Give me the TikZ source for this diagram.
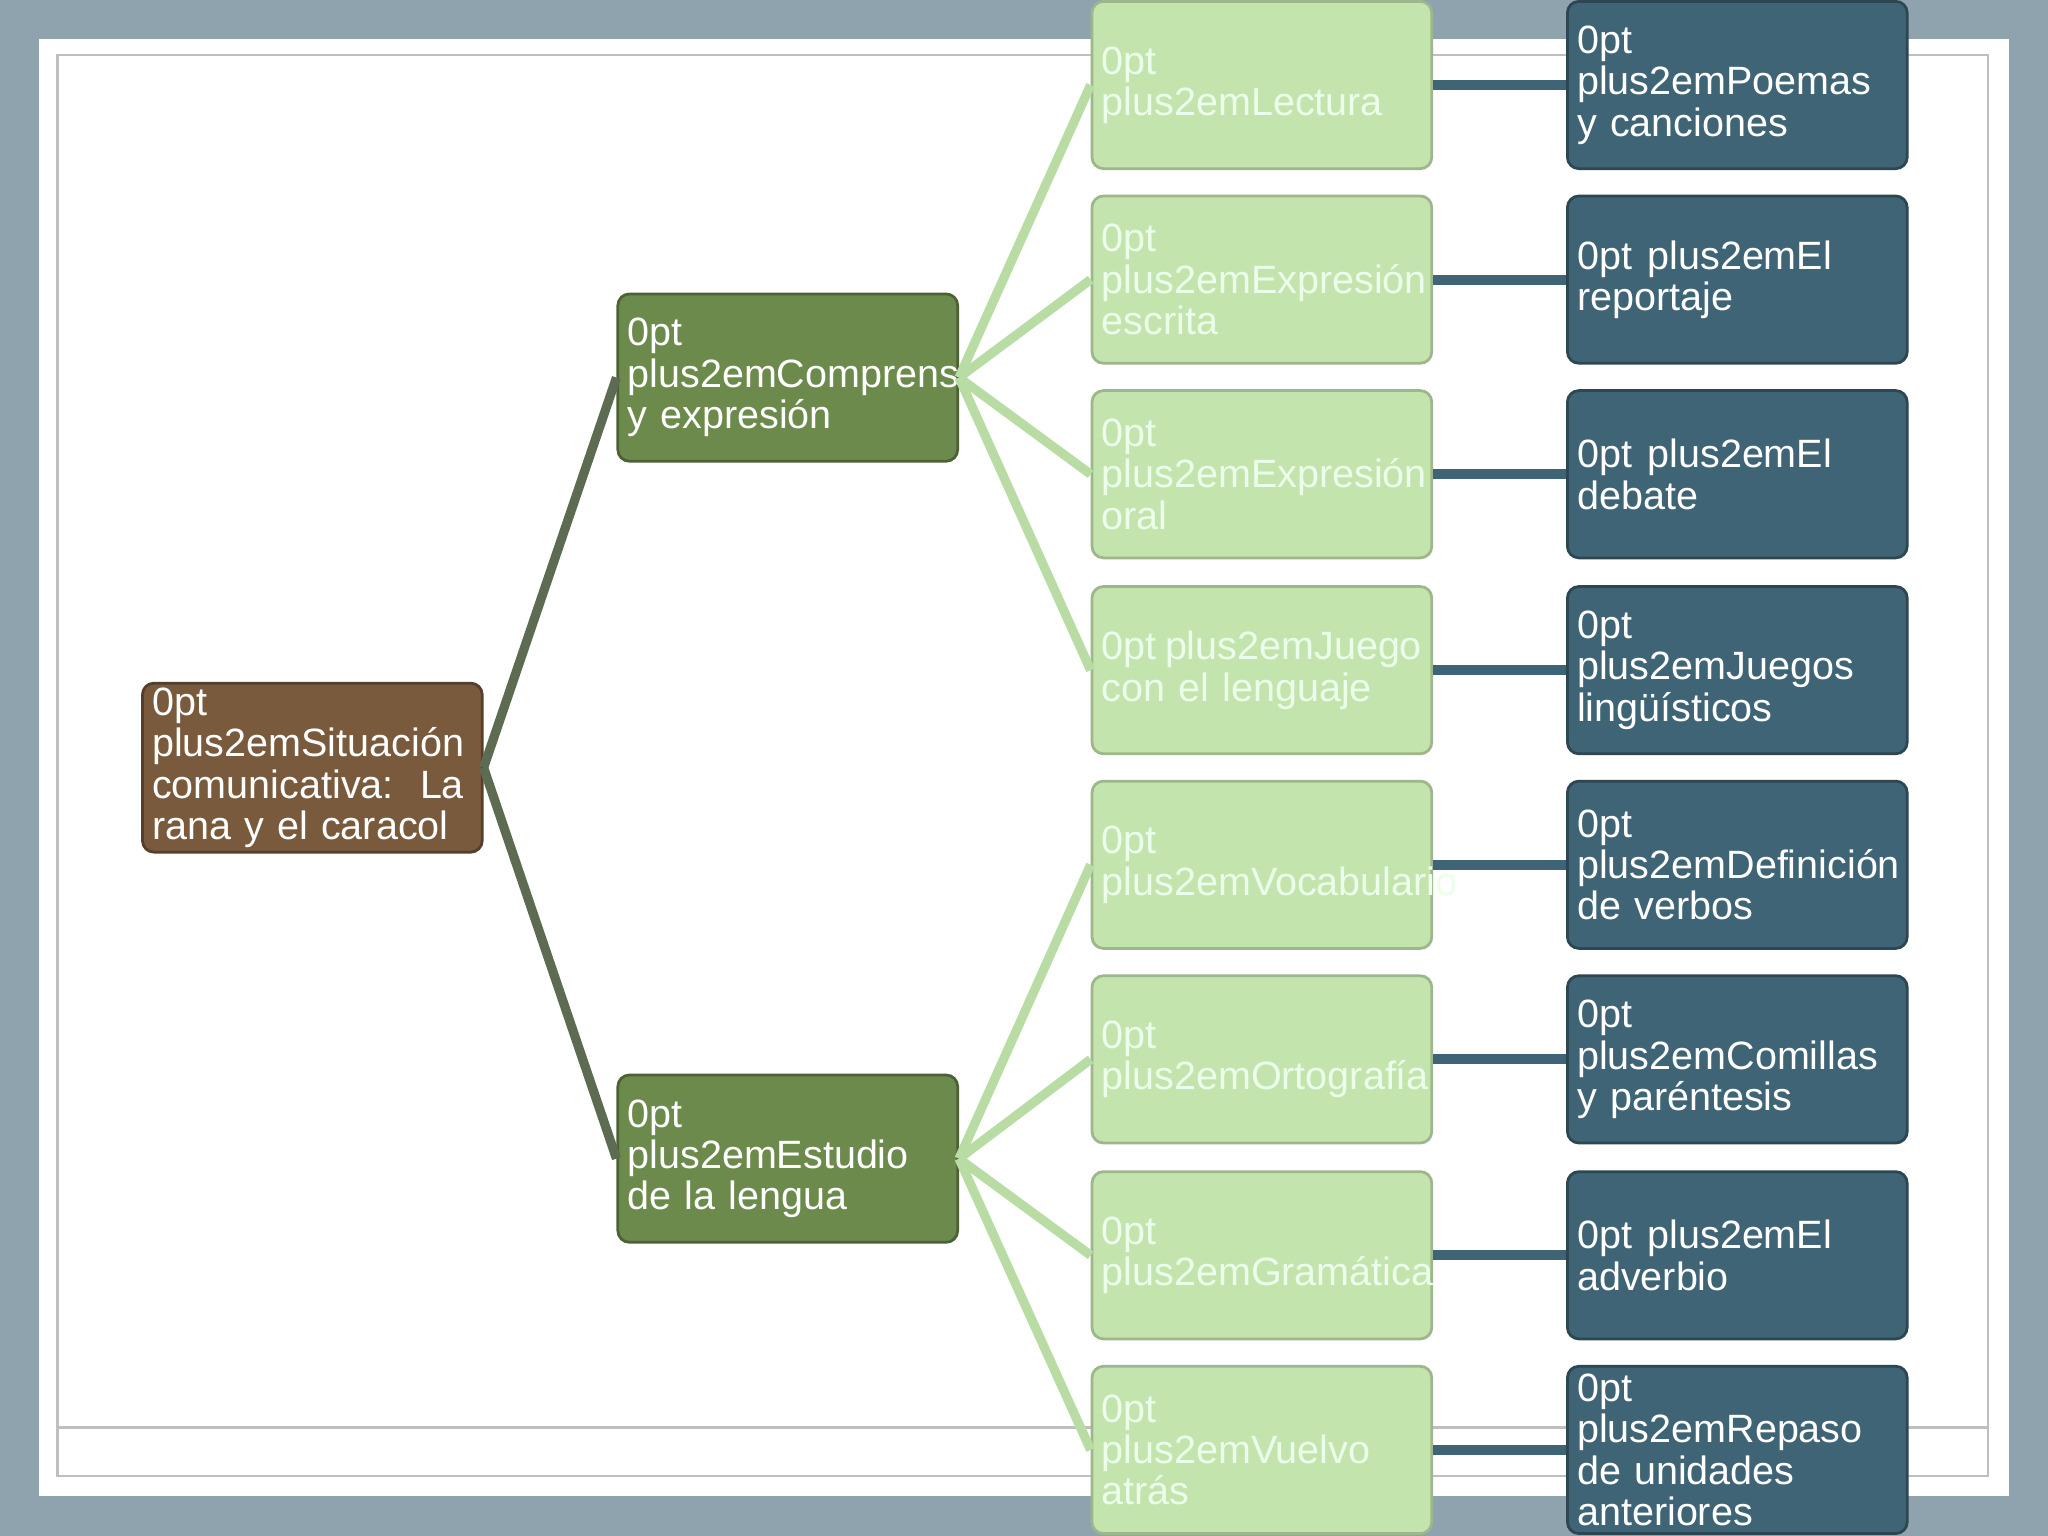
\documentclass[tikz,border=0pt]{standalone}
\usepackage{fontspec}
\setmainfont{Liberation Sans}
\definecolor{bgc}{HTML}{8FA3AE}
\definecolor{brn}{HTML}{7A5A3C}
\definecolor{grn}{HTML}{6C8A4C}
\definecolor{lgr}{HTML}{C4E4AE}
\definecolor{teal}{HTML}{3F6475}
\definecolor{lgline}{HTML}{B8DCA4}
\definecolor{dgline}{HTML}{5C6B52}
\begin{document}
\begin{tikzpicture}[x=0.01cm,y=-0.01cm,
 box/.style={rounded corners=2.5pt,inner sep=1pt,minimum width=2.6cm,minimum height=1.28cm,anchor=north west,align=center,text width=2.45cm,font=\fontsize{8.6pt}{9pt}\selectfont\hyphenpenalty=10000\exhyphenpenalty=10000,line width=0.6pt},
 rootb/.style={box,fill=brn,draw=brn!70!black,text=white},
 midb/.style={box,fill=grn,draw=grn!70!black,text=white},
 leafb/.style={box,fill=lgr,draw=lgr!80!black,text=white!92!green},
 endb/.style={box,fill=teal,draw=teal!70!black,text=white}]
\fill[bgc] (0,0) rectangle (1568,1176);
\fill[white] (30,30) rectangle (1538,1145);
\draw[gray!50,line width=0.5pt] (44,42) rectangle (1522,1130);
\draw[gray!50,line width=0.5pt] (44,1093) -- (1522,1093);
\node[rootb] (r) at (108,522) {Situación comunicativa:\ \ La rana y el caracol};
\node[midb] (c) at (472,224) {Comprensión y expresión};
\node[midb] (e) at (472,822) {Estudio de la lengua};
\foreach \n/\y/\a/\b in {l1/0/Lectura/Poemas y canciones,
 l2/149/Expresión escrita/El reportaje,
 l3/298/Expresión oral/El debate,
 l4/448/Juego con el lenguaje/Juegos lingüísticos,
 l5/597/Vocabulario/Definición de verbos,
 l6/746/Ortografía/Comillas y paréntesis,
 l7/896/Gramática/El adverbio,
 l8/1045/Vuelvo atrás/Repaso de unidades anteriores}{
 \node[leafb] (\n) at (835,\y) {\a};
 \node[endb] (t\n) at (1199,\y) {\b};
 \draw[teal,line width=2.2pt] (\n.east) -- (t\n.west);
}
\draw[dgline,line width=2pt] (r.east) -- (c.west);
\draw[dgline,line width=2pt] (r.east) -- (e.west);
\foreach \n in {l1,l2,l3,l4} \draw[lgline,line width=2pt] (c.east) -- (\n.west);
\foreach \n in {l5,l6,l7,l8} \draw[lgline,line width=2pt] (e.east) -- (\n.west);
\end{tikzpicture}
\end{document}
